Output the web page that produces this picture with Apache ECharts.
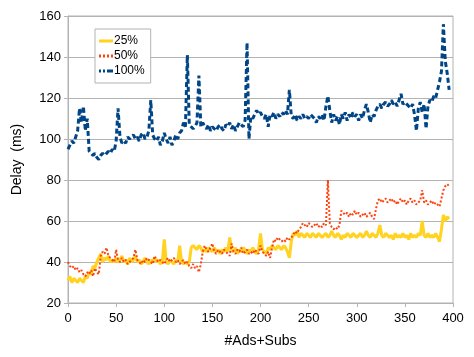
<!DOCTYPE html>
<html>
<head>
<meta charset="utf-8">
<script src="https://cdn.jsdelivr.net/npm/echarts@6/dist/echarts.min.js"></script>
<style>html,body{margin:0;padding:0;background:#fff;}#c{width:474px;height:357px;}</style>
</head>
<body>
<div id="c"></div>
<script>
const xStep = 2; // samples every 2 units of #Ads+Subs, starting at 0
const seriesNames = ['25%', '50%', '100%'];
const xTicks = [0, 50, 100, 150, 200, 250, 300, 350, 400];
const yTicks = [20, 40, 60, 80, 100, 120, 140, 160];

const delay25 = [
31,33,30,32,31,30,32,31,30,33,32,35,34,38,37,40,42,44,40,42,
41,43,40,41,40,42,40,41,43,40,41,39,42,40,41,43,40,41,39,40,
42,40,39,41,40,42,40,41,39,40,51,40,39,41,40,39,41,40,48,40,
39,40,39,40,47,48,47,46,48,47,45,46,45,47,46,45,47,45,46,44,
46,45,47,45,52,46,45,47,44,46,45,47,46,44,46,45,47,45,44,46,
54,46,45,44,47,46,48,47,46,48,47,46,48,47,45,42,50,54,53,55,
52,54,53,52,54,53,52,54,53,52,54,53,52,53,54,52,53,55,53,52,
54,53,51,53,52,54,53,52,54,53,52,53,54,52,53,55,53,52,54,53,
52,54,58,53,52,54,53,52,53,51,54,52,53,52,54,52,53,51,54,52,
53,52,54,53,60,53,52,54,52,53,52,54,52,50,56,63,60,62,61
];

const delay50 = [
40,38,37,38,36,37,35,36,34,33,35,34,36,33,37,35,34,43,45,44,
47,43,42,41,40,46,41,40,42,40,41,39,40,41,42,46,41,40,39,41,
40,42,41,40,39,43,41,40,41,40,39,41,42,40,41,42,40,41,39,40,
41,39,40,38,37,39,37,38,35,39,45,48,46,45,47,49,45,44,46,45,
44,46,45,44,43,49,45,44,46,45,47,44,45,46,44,45,44,46,45,44,
48,45,44,43,45,42,47,51,50,52,51,50,51,50,52,51,52,53,55,54,
56,57,59,58,57,59,58,57,58,59,57,58,57,59,58,80,59,57,56,57,
56,58,65,64,63,64,62,64,63,65,63,64,62,63,64,62,63,64,62,61,
66,70,71,69,70,71,69,70,71,69,70,68,70,71,69,70,68,70,71,69,
70,68,69,70,75,69,70,68,69,70,68,69,68,67,71,75,77,78,77
];

const delay100 = [
95,97,99,98,101,104,115,108,116,104,110,94,93,92,93,91,90,92,93,92,
93,94,93,95,94,99,115,101,98,99,98,101,100,100,102,100,101,99,102,103,
100,101,104,119,102,100,99,101,97,99,103,100,98,101,97,99,102,100,103,104,
108,106,141,107,106,105,106,108,131,106,108,106,105,107,104,106,105,104,106,107,
105,104,107,106,108,105,107,104,106,108,107,106,109,147,100,111,110,112,114,112,
113,111,110,112,106,112,111,113,110,112,111,113,112,114,112,124,111,110,112,109,
111,110,112,110,111,110,112,111,110,108,111,110,112,109,116,121,114,108,112,109,
111,107,112,110,113,109,112,110,113,111,112,109,112,110,114,117,113,108,112,111,
114,116,117,115,117,118,116,117,119,117,118,116,119,122,117,118,117,116,115,117,
112,104,115,118,113,117,105,116,119,118,121,120,124,128,133,156,138,132,124
];

const toPairs = arr => arr.map((v, i) => [i * xStep, v]);

const legendIcons = [
  'path://M0,0h14v3h-14z',
  'path://M0,0h2v3h-2z M4,0h2v3h-2z M8,0h2v3h-2z M12,0h2v3h-2z',
  'path://M0,0h2v3h-2z M4,0h2v3h-2z M8,0h6v3h-6z'
];

const chart = echarts.init(document.getElementById('c'), null, {renderer: 'canvas'});
const font = 'Liberation Sans, Arial, sans-serif';
chart.setOption({
  animation: false,
  backgroundColor: '#ffffff',
  textStyle: {fontFamily: font},
  grid: {left: 68, right: 21, top: 16, bottom: 54, show: true, borderColor: '#b3b3b3', borderWidth: 1},
  legend: {
    orient: 'vertical', left: 95, top: 29,
    data: seriesNames.map((n, i) => ({name: n, icon: legendIcons[i]})),
    backgroundColor: '#fff', borderColor: '#b3b3b3', borderWidth: 1,
    padding: [6, 6, 6, 4], itemGap: 3, itemWidth: 14, itemHeight: 3,
    textStyle: {fontSize: 12, color: '#000', fontFamily: font, padding: [0, 0, 0, -4], lineHeight: 12}
  },
  xAxis: {
    type: 'value', min: xTicks[0], max: xTicks[xTicks.length - 1], interval: 50,
    name: '#Ads+Subs', nameLocation: 'middle', nameGap: 31,
    nameTextStyle: {fontSize: 14, color: '#000', fontFamily: font},
    axisLine: {show: true, lineStyle: {color: '#b3b3b3'}},
    axisTick: {show: true, length: 4, lineStyle: {color: '#b3b3b3'}},
    axisLabel: {fontSize: 13, color: '#000', margin: 9, fontFamily: font},
    splitLine: {show: false}
  },
  yAxis: {
    type: 'value', min: yTicks[0], max: yTicks[yTicks.length - 1], interval: 20,
    name: 'Delay  (ms)', nameLocation: 'middle', nameGap: 44, nameRotate: 90,
    nameTextStyle: {fontSize: 14, color: '#000', fontFamily: font},
    axisLine: {show: true, lineStyle: {color: '#b3b3b3'}},
    axisTick: {show: true, length: 4, lineStyle: {color: '#b3b3b3'}},
    axisLabel: {fontSize: 13, color: '#000', margin: 7, fontFamily: font},
    splitLine: {show: true, lineStyle: {color: '#b3b3b3'}}
  },
  series: [
    {name: seriesNames[0], type: 'line', data: toPairs(delay25), showSymbol: false, symbol: 'none',
     color: '#ffd320', lineStyle: {color: '#ffd320', width: 3, type: 'solid'}, z: 2},
    {name: seriesNames[1], type: 'line', data: toPairs(delay50), showSymbol: false, symbol: 'none',
     color: '#ff420e', lineStyle: {color: '#ff420e', width: 2, type: [2, 2]}, z: 3},
    {name: seriesNames[2], type: 'line', data: toPairs(delay100), showSymbol: false, symbol: 'none',
     color: '#004586', lineStyle: {color: '#004586', width: 3, type: [5, 3]}, z: 4}
  ]
});
</script>
</body>
</html>
